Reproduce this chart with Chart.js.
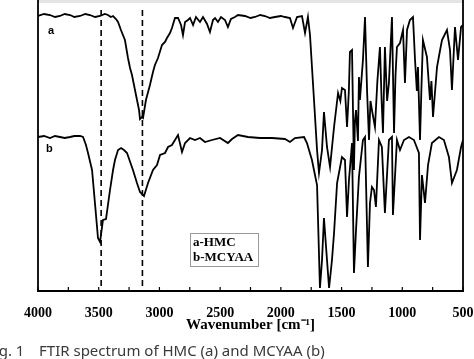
<!DOCTYPE html>
<html>
<head>
<meta charset="utf-8">
<script src="https://cdn.jsdelivr.net/npm/chart.js@4/dist/chart.umd.min.js"></script>
<style>
  html, body { margin: 0; padding: 0; background: #fff; }
  #wrap { position: relative; width: 474px; height: 359px; overflow: hidden; }
  #caption { position: absolute; left: 0; top: 340px; width: 474px; white-space: nowrap;
    font: 15px "Noto Sans", sans-serif; color: #3a3a3a; }
</style>
</head>
<body>
<div id="wrap">
  <canvas id="ftir" width="474" height="359"></canvas>
  <div id="caption"><span style="position:absolute;left:-13px">Fig. 1</span><span style="position:absolute;left:39px">FTIR spectrum of HMC (a) and MCYAA (b)</span></div>
</div>
<script>
// curve a (HMC): wavenumber [cm-1] and transmittance (arbitrary units)
const wnA = [4000,3950,3901,3860,3819,3780,3736,3700,3654,3610,3572,3530,3489,3450,3424,3400,3382,3358,3341,3317,3284,3259,3242,3226,3193,3168,3160,3144,3135,3111,3078,3053,3037,3012,2979,2954,2938,2913,2897,2872,2847,2822,2806,2789,2765,2748,2723,2699,2666,2641,2608,2584,2559,2542,2518,2493,2460,2436,2411,2378,2353,2295,2250,2213,2170,2131,2090,2048,2000,1966,1925,1900,1867,1826,1801,1777,1760,1727,1702,1686,1661,1645,1620,1595,1562,1529,1510,1497,1472,1455,1440,1431,1414,1398,1390,1381,1365,1357,1349,1324,1307,1290,1274,1262,1250,1225,1205,1184,1170,1159,1143,1125,1110,1085,1068,1056,1044,1019,994,978,961,937,912,895,880,871,854,843,830,797,772,760,747,714,690,673,632,607,591,566,541,516,500];
const tA  = [275,277,276,274,275,277,276,274,275,277,276,274,275,277,276,274,275,272,269,261,251,233,223,216,196,181,172,174,173,191,206,219,226,233,246,249,253,258,263,273,273,266,256,269,271,273,266,274,269,274,267,259,271,273,269,274,271,264,272,274,276,275,273,274,276,275,273,274,275,274,273,263,274,275,258,274,256,191,141,118,141,179,144,124,164,198,190,203,201,164,200,239,241,121,170,181,150,214,191,231,274,200,151,190,181,164,210,244,190,158,244,190,208,274,158,215,244,248,261,208,261,271,274,231,200,224,151,200,251,234,191,210,174,224,240,251,261,241,201,264,231,264,266];

// curve b (MCYAA)
const wnB = [4000,3950,3901,3860,3819,3780,3736,3700,3654,3629,3605,3588,3555,3531,3506,3489,3465,3440,3407,3382,3366,3341,3316,3292,3267,3218,3185,3160,3127,3094,3053,3020,2995,2954,2929,2897,2872,2847,2814,2789,2748,2707,2666,2625,2567,2501,2436,2402,2353,2271,2172,2073,1966,1925,1884,1809,1785,1744,1702,1678,1661,1645,1620,1603,1579,1562,1537,1497,1472,1455,1439,1414,1398,1381,1357,1324,1307,1283,1266,1250,1233,1217,1192,1168,1143,1110,1085,1077,1044,1019,986,945,904,863,854,838,813,788,756,698,657,616,591,550,516,500];
const tB  = [154,155,153,155,154,153,154,155,155,154,146,138,121,88,53,49,71,72,101,121,131,141,143,141,138,121,108,99,95,108,121,126,136,138,144,146,151,156,139,148,153,151,153,149,151,153,148,152,156,154,153,153,152,149,153,154,148,131,106,3,31,73,31,3,31,58,108,134,131,74,111,148,18,61,114,151,154,24,88,104,101,84,151,144,78,151,154,76,151,141,151,154,151,138,51,116,88,126,148,154,151,134,108,121,144,151];

// dashed marker lines
const markers = [3480, 3140];
const markerSpan = [5, 283];

const xTickStep = 500;
const labelA = 'a', labelB = 'b';
const legendLines = ['a-HMC', 'b-MCYAA'];

const toPts = (xs, ys) => xs.map((x, i) => ({ x: x, y: ys[i] }));

const frame = {
    id: 'frame',
    afterDraw(chart) {
        const { ctx, chartArea: a, scales: { x } } = chart;
        ctx.save();
        // faint band at top edge
        ctx.fillStyle = '#e4e4e4';
        ctx.fillRect(a.left, 0, a.right - a.left, 3);
        // left / right axis lines
        ctx.strokeStyle = '#000';
        ctx.lineWidth = 1.8;
        ctx.beginPath();
        ctx.moveTo(a.left, 0); ctx.lineTo(a.left, a.bottom);
        ctx.moveTo(a.right, 0); ctx.lineTo(a.right, a.bottom);
        ctx.stroke();
        // inward ticks, major + minor
        ctx.lineWidth = 1.2;
        ctx.beginPath();
        for (let v = x.min; v <= x.max; v += xTickStep / 2) {
            const px = x.getPixelForValue(v);
            ctx.moveTo(px, a.bottom);
            ctx.lineTo(px, a.bottom - 4);
        }
        ctx.stroke();
        // curve labels
        ctx.fillStyle = '#000';
        ctx.font = 'bold 11px "Liberation Sans", Arial, sans-serif';
        ctx.textBaseline = 'middle';
        ctx.fillText(labelA, 48, 31);
        ctx.fillText(labelB, 46, 149);
        // legend box
        ctx.fillStyle = '#fff';
        ctx.fillRect(190, 233, 69, 34);
        ctx.strokeStyle = '#999';
        ctx.lineWidth = 1;
        ctx.strokeRect(190.5, 233.5, 68, 33);
        ctx.fillStyle = '#000';
        ctx.font = 'bold 13px "Liberation Serif", "Times New Roman", serif';
        ctx.fillText(legendLines[0], 193, 243);
        ctx.fillText(legendLines[1], 193, 258);
        ctx.restore();
    }
};

const lineStyle = { borderColor: '#000', borderWidth: 1.8, pointRadius: 0, fill: false, tension: 0 };

new Chart(document.getElementById('ftir'), {
    type: 'line',
    data: {
        datasets: [
            { ...lineStyle, data: toPts(wnA, tA) },
            { ...lineStyle, data: toPts(wnB, tB) },
            ...markers.map(m => ({ ...lineStyle, borderWidth: 1.6, borderDash: [6, 4],
                data: [{ x: m, y: markerSpan[0] }, { x: m, y: markerSpan[1] }] }))
        ]
    },
    options: {
        responsive: false,
        animation: false,
        layout: { padding: { left: 38, right: 11, top: 2, bottom: 0 } },
        plugins: { legend: { display: false }, tooltip: { enabled: false } },
        scales: {
            x: {
                type: 'linear',
                reverse: true,
                min: 500,
                max: 4000,
                grid: { display: false },
                border: { display: true, color: '#000', width: 2 },
                ticks: {
                    stepSize: xTickStep,
                    padding: 6,
                    color: '#000',
                    callback: v => String(v),
                    font: { family: '"Liberation Serif", "Times New Roman", serif', weight: 'bold', size: 14 }
                },
                title: {
                    display: true,
                    text: 'Wavenumber [cm\u207B\u00B9]',
                    color: '#000',
                    padding: { top: 0, bottom: 25 },
                    font: { family: '"Liberation Serif", "Times New Roman", serif', weight: 'bold', size: 15 }
                },
                afterFit: s => { s.height = 68; s.paddingLeft = 0; s.paddingRight = 0; }
            },
            y: { display: false, min: 0, max: 289 }
        }
    },
    plugins: [frame]
});
</script>
</body>
</html>
